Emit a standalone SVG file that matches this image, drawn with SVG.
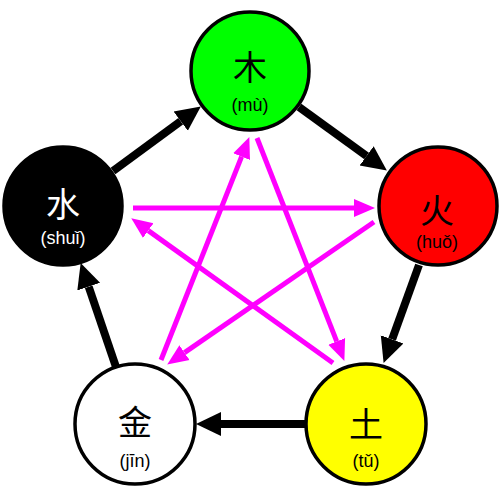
<svg xmlns="http://www.w3.org/2000/svg" width="500" height="500" viewBox="0 0 500 500">
<style>
.node circle{stroke:#000;stroke-width:3.5}
.cjk{font-family:"Noto Sans CJK SC","Noto Sans CJK JP",sans-serif;font-size:34px;text-anchor:middle}
.py{font-family:"Liberation Sans",Arial,sans-serif;font-size:18px;text-anchor:middle}
.blk{stroke:#000;stroke-width:8;fill:none}
.pnk{stroke:#ff00ff;stroke-width:5;fill:none}
</style>
<defs>
<marker id="ab" markerUnits="userSpaceOnUse" markerWidth="30" markerHeight="30" refX="0" refY="12" orient="auto" viewBox="0 0 30 24">
<path d="M0,0 L25,12 L0,24 z" fill="#000"/>
</marker>
<marker id="ap" markerUnits="userSpaceOnUse" markerWidth="24" markerHeight="24" refX="0" refY="9" orient="auto" viewBox="0 0 24 18">
<path d="M0,0 L21,9 L0,18 z" fill="#ff00ff"/>
</marker>
</defs>
<g id="connectors">
<path class="blk" d="M113,171 L180.7,121.2" marker-end="url(#ab)"/>
<path class="blk" d="M299,107 L366.6,155.9" marker-end="url(#ab)"/>
<path class="blk" d="M419,265 L392.1,339.4" marker-end="url(#ab)"/>
<path class="blk" d="M305,424 L221,424" marker-end="url(#ab)"/>
<path class="blk" d="M116,367 L88.7,286.7" marker-end="url(#ab)"/>
<path class="pnk" d="M133,208 L354,208" marker-end="url(#ap)"/>
<path class="pnk" d="M374,222 L184.5,352.6" marker-end="url(#ap)"/>
<path class="pnk" d="M161,360 L241.6,156.6" marker-end="url(#ap)"/>
<path class="pnk" d="M257,138 L336.7,341.4" marker-end="url(#ap)"/>
<path class="pnk" d="M333,363 L148.3,230.6" marker-end="url(#ap)"/>
</g>
<g id="wood" class="node">
<circle cx="250" cy="71" r="59" fill="#00ff00"/>
<text class="cjk" x="250" y="80">木</text>
<text class="py" x="250" y="111">(mù)</text>
</g>
<g id="fire" class="node">
<circle cx="438" cy="206" r="59" fill="#ff0000"/>
<text class="cjk" x="437" y="223">火</text>
<text class="py" x="437" y="248">(huǒ)</text>
</g>
<g id="earth" class="node">
<circle cx="366" cy="424" r="60" fill="#ffff00"/>
<text class="cjk" x="366" y="437">土</text>
<text class="py" x="366" y="467">(tǔ)</text>
</g>
<g id="metal" class="node">
<circle cx="135" cy="424" r="60" fill="#ffffff"/>
<text class="cjk" x="135" y="435">金</text>
<text class="py" x="135" y="467">(jīn)</text>
</g>
<g id="water" class="node">
<circle cx="63" cy="206" r="59" fill="#000000"/>
<text class="cjk" x="63" y="217" fill="#fff">水</text>
<text class="py" x="63" y="244" fill="#fff">(shuǐ)</text>
</g>
</svg>
